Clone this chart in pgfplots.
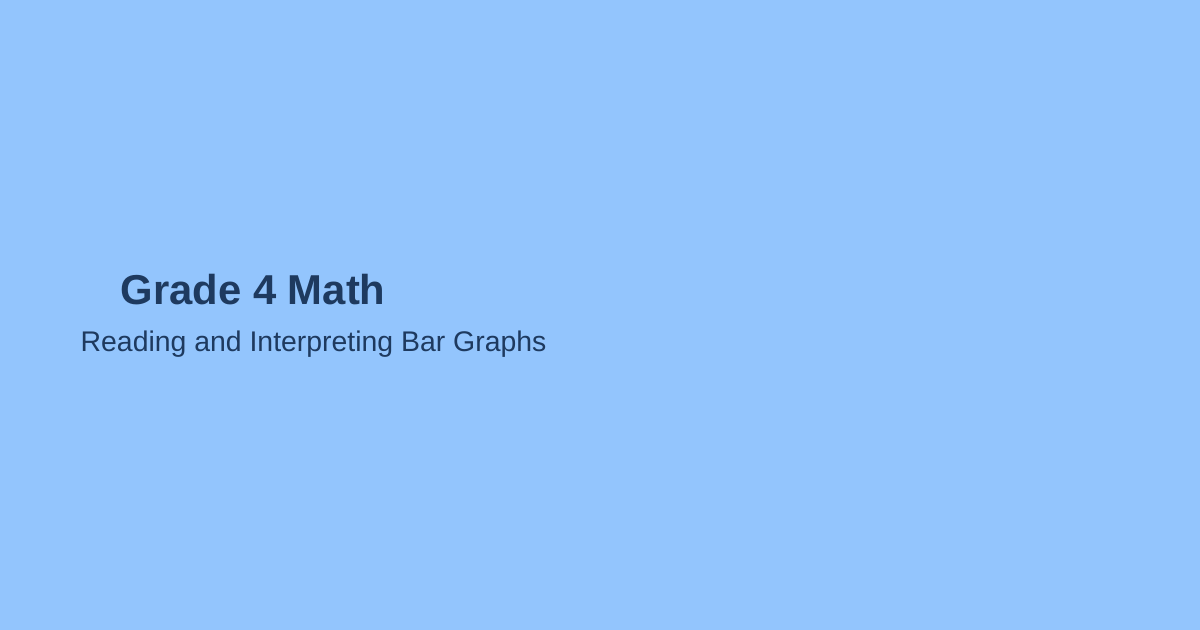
\documentclass[border=0pt]{standalone}
\usepackage{fontspec}
\setmainfont{Liberation Sans}
\usepackage{pgfplots}
\pgfplotsset{compat=1.18}
\definecolor{bgblue}{HTML}{93C5FD}
\definecolor{txtblue}{HTML}{1E3A5F}
\begin{document}
\begin{tikzpicture}
\begin{axis}[
  at={(0,0)}, anchor=south west,
  width=1200bp, height=630bp, scale only axis,
  xmin=0, xmax=1200, ymin=0, ymax=630,
  hide axis,
  axis background/.style={fill=bgblue},
  clip=false,
]
\addplot[draw=none, fill=bgblue] coordinates {(0,0) (1200,0) (1200,630) (0,630)} -- cycle;
\node[anchor=base west, inner sep=0pt, text=txtblue, font=\fontsize{41.8bp}{48bp}\selectfont\bfseries] at (axis cs:120.5,326) {Grade 4 Math};
\node[anchor=base west, inner sep=0pt, text=txtblue, font=\fontsize{28.4bp}{34bp}\selectfont] at (axis cs:80.5,279) {Reading and Interpreting Bar Graphs};
\end{axis}
\pgfresetboundingbox
\useasboundingbox (0,0) rectangle (1200bp,630bp);
\end{tikzpicture}
\end{document}
